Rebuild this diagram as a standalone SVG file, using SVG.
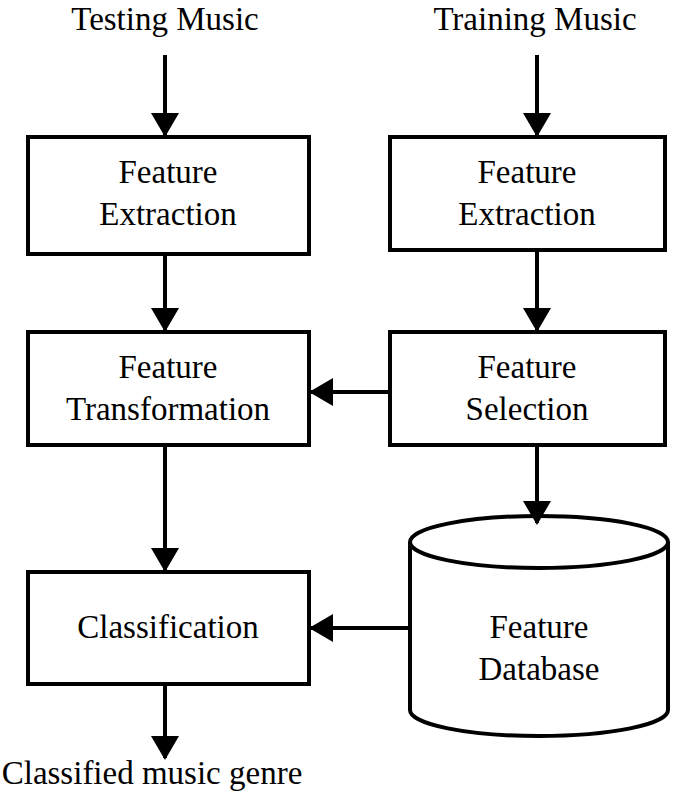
<svg xmlns="http://www.w3.org/2000/svg" width="685" height="797" viewBox="0 0 685 797">
<style>
.b{fill:#fff;stroke:#000;stroke-width:4}
.t{font-family:"Liberation Serif",serif;font-size:33px;text-anchor:middle;fill:#000}
.c{stroke:#000;stroke-width:4;fill:none;marker-end:url(#a)}
</style>
<defs><marker id="a" markerWidth="6" markerHeight="7" refX="5.5" refY="3.5" orient="auto" markerUnits="strokeWidth"><path d="M0,0L6,3.5L0,7z" fill="#000"/></marker></defs>
<rect width="685" height="797" fill="#fff"/>
<text class="t" x="165" y="30">Testing Music</text>
<text class="t" x="535" y="30">Training Music</text>
<g id="fe1"><rect class="b" x="28" y="137" width="281" height="117"/><text class="t" x="168" y="183">Feature</text><text class="t" x="168" y="225">Extraction</text></g>
<g id="fe2"><rect class="b" x="390" y="137" width="275" height="113"/><text class="t" x="527" y="183">Feature</text><text class="t" x="527" y="225">Extraction</text></g>
<g id="ft"><rect class="b" x="28" y="332" width="281" height="113"/><text class="t" x="168" y="378">Feature</text><text class="t" x="168" y="420">Transformation</text></g>
<g id="fs"><rect class="b" x="390" y="332" width="275" height="113"/><text class="t" x="527" y="378">Feature</text><text class="t" x="527" y="420">Selection</text></g>
<g id="cl"><rect class="b" x="28" y="572" width="281" height="112"/><text class="t" x="168" y="638">Classification</text></g>
<g id="db"><path class="b" d="M410,542 L410,710 A129,26 0 0 0 668,710 L668,542 A129,26 0 0 0 410,542 A129,26 0 0 0 668,542"/><text class="t" x="539" y="638">Feature</text><text class="t" x="539" y="680">Database</text></g>
<text class="t" x="152" y="784" font-size="30">Classified music genre</text>
<g id="connectors">
<path class="c" d="M165,55V135"/>
<path class="c" d="M165,254V330"/>
<path class="c" d="M165,445V570"/>
<path class="c" d="M165,684V758"/>
<path class="c" d="M537,55V135"/>
<path class="c" d="M537,250V330"/>
<path class="c" d="M537,445V523"/>
<path class="c" d="M390,392H311"/>
<path class="c" d="M410,628H311"/>
</g>
</svg>
